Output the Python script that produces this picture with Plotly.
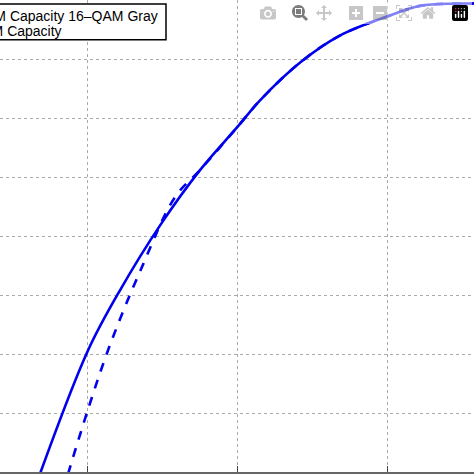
import plotly.graph_objects as go

# SNR (dB) and capacity (bits)
snr_bicm = [3.39, 5.0, 6.07, 7.41, 8.75, 9.98, 10.75, 12.09, 13.43, 15.0, 16.1, 17.9]
cap_bicm = [-0.02, 1.03, 1.54, 2.09, 2.56, 2.92, 3.15, 3.47, 3.70, 3.86, 3.95, 3.97]
snr_cm = [4.33, 5.0, 5.74, 6.74, 7.91, 8.75, 9.98, 10.75, 12.09, 13.43, 15.0, 16.1, 17.9]
cap_cm = [-0.02, 0.53, 1.08, 1.70, 2.33, 2.56, 2.92, 3.15, 3.47, 3.70, 3.86, 3.95, 3.97]

fig = go.Figure()
fig.add_trace(go.Scatter(x=snr_bicm, y=cap_bicm, mode="lines", line=dict(color="#0000ee", width=2.6, shape="spline")))
fig.add_trace(go.Scatter(x=snr_cm, y=cap_cm, mode="lines", line=dict(color="#0000ee", width=2.6, dash="dash", shape="spline")))

fig.update_layout(
    width=474, height=474, showlegend=False,
    margin=dict(l=0, r=0, t=0, b=2),
    plot_bgcolor="white", paper_bgcolor="white",
    xaxis=dict(range=[2.06, 17.9], tickvals=[5, 10, 15], showticklabels=False,
               showgrid=True, gridcolor="#aaa", griddash="dot", gridwidth=1,
               zeroline=False, showline=True, linecolor="#666", linewidth=2,
               ticks="inside", ticklen=6, tickcolor="#444"),
    yaxis=dict(range=[0, 4], tickvals=[0.5, 1, 1.5, 2, 2.5, 3, 3.5, 4], showticklabels=False,
               showgrid=True, gridcolor="#aaa", griddash="dot", gridwidth=1, zeroline=False),
)

# legend box, partly cut off at the left edge like the reference
fig.add_shape(type="rect", xref="paper", yref="paper", x0=-0.2, x1=166/474,
              y0=1-40/474, y1=1-4/474, line=dict(color="black", width=1.5), fillcolor="white")
fig.add_annotation(
    xref="paper", yref="paper", x=160/474, y=1-16/474, xanchor="right", yanchor="middle",
    text="BICM Capacity 16–QAM Gray", showarrow=False,
    font=dict(family="Liberation Sans, Arial", size=14, color="black"),
)
fig.add_annotation(
    xref="paper", yref="paper", x=-54/474, y=1-31/474, xanchor="left", yanchor="middle",
    text="16–QAM Capacity", showarrow=False,
    font=dict(family="Liberation Sans, Arial", size=14, color="black"),
)

fig.write_html("out.html")

# drop the default body margin so the figure sits at the window corner
with open("out.html") as f:
    html = f.read()
html = html.replace("<head>", "<head><style>body{margin:0;overflow:hidden}</style>", 1)
with open("out.html", "w") as f:
    f.write(html)
